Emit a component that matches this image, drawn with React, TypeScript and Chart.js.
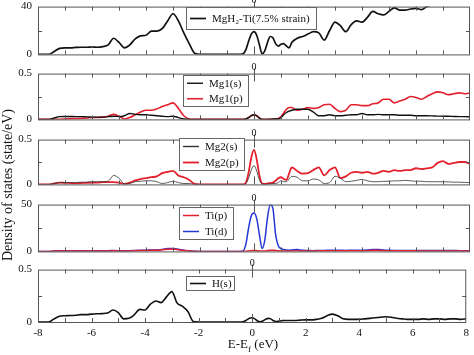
import React, { useEffect, useRef } from 'react';
import { Chart, registerables } from 'chart.js';
Chart.register(...registerables);

const energies = [
  -8.0, -7.8, -7.6, -7.4, -7.2, -7.0, -6.8, -6.6, -6.4, -6.2,
  -6.0, -5.8, -5.6, -5.4, -5.2, -5.0, -4.8, -4.6, -4.4, -4.2,
  -4.0, -3.8, -3.6, -3.4, -3.2, -3.0, -2.8, -2.6, -2.4, -2.2,
  -2.0, -1.8, -1.6, -1.4, -1.2, -1.0, -0.8, -0.6,
  -0.5, -0.4, -0.3, -0.2, -0.1, 0.0, 0.1, 0.2, 0.3, 0.4,
  0.5, 0.6, 0.7, 0.8, 0.9, 1.0, 1.1, 1.2, 1.3, 1.4,
  1.6, 1.8, 2.0, 2.2, 2.4, 2.6, 2.8, 3.0, 3.2, 3.4,
  3.6, 3.8, 4.0, 4.2, 4.4, 4.6, 4.8, 5.0, 5.2, 5.4,
  5.6, 5.8, 6.0, 6.2, 6.4, 6.6, 6.8, 7.0, 7.2, 7.4, 7.6, 7.8, 8.0,
];

const totalDos = [
  0, 0, 0, 2.5, 5, 5.5, 5.5, 5.8, 6, 6,
  6.2, 6, 6.5, 8, 13.5, 10, 5.5, 8, 13, 15.5,
  16, 19.5, 19.5, 21.5, 28, 34, 28, 18, 9, 1,
  0, 0, 0, 0, 0, 0, 0, 0,
  0, 0.5, 4, 11, 17, 19, 16, 8, 0.5, 3,
  10, 15, 14, 9, 7, 8.5, 9, 7, 5.5, 10,
  13.5, 15, 17, 19, 18, 12, 20, 27, 24, 19,
  25, 28, 27, 31, 36, 34, 33, 36, 39, 37,
  37, 38, 38.5, 37.5, 40, 42, 44, 43, 46, 45, 47, 46, 48,
];

const mg1s = [
  0, 0, 0, 0.015, 0.03, 0.032, 0.032, 0.03, 0.03, 0.028,
  0.025, 0.025, 0.025, 0.03, 0.035, 0.03, 0.04, 0.065, 0.055, 0.05,
  0.05, 0.045, 0.04, 0.035, 0.03, 0.035, 0.02, 0.005, 0, 0,
  0, 0, 0, 0, 0, 0, 0, 0,
  0, 0, 0.005, 0.02, 0.04, 0.05, 0.04, 0.015, 0, 0,
  0, 0.002, 0.005, 0.005, 0.005, 0.02, 0.05, 0.075, 0.09, 0.1,
  0.11, 0.11, 0.11, 0.08, 0.04, 0.04, 0.05, 0.04, 0.04, 0.045,
  0.05, 0.05, 0.065, 0.05, 0.05, 0.055, 0.05, 0.05, 0.05, 0.045,
  0.045, 0.045, 0.04, 0.04, 0.04, 0.038, 0.036, 0.035, 0.034, 0.032, 0.03, 0.03, 0.028,
];

const mg1p = [
  0, 0, 0, 0, 0, 0.005, 0.008, 0.01, 0.012, 0.015,
  0.02, 0.02, 0.025, 0.035, 0.055, 0.035, 0.005, 0.02, 0.05, 0.08,
  0.1, 0.1, 0.115, 0.14, 0.16, 0.18, 0.12, 0.04, 0.005, 0,
  0, 0, 0, 0, 0, 0, 0, 0,
  0, 0, 0.005, 0.02, 0.04, 0.05, 0.04, 0.015, 0, 0,
  0, 0, 0.002, 0.005, 0.01, 0.03, 0.07, 0.11, 0.13, 0.13,
  0.1, 0.11, 0.13, 0.12, 0.13, 0.16, 0.165, 0.12, 0.085, 0.1,
  0.16, 0.16, 0.15, 0.15, 0.17, 0.18, 0.22, 0.22, 0.18, 0.2,
  0.22, 0.25, 0.24, 0.22, 0.25, 0.28, 0.3, 0.29, 0.27, 0.28, 0.29, 0.28, 0.29,
];

const mg2s = [
  0, 0, 0, 0.01, 0.02, 0.02, 0.02, 0.02, 0.025, 0.025,
  0.03, 0.03, 0.03, 0.035, 0.1, 0.07, 0.005, 0.01, 0.03, 0.035,
  0.04, 0.04, 0.03, 0.01, 0.02, 0.035, 0.02, 0.01, 0.01, 0,
  0, 0, 0, 0, 0, 0, 0, 0,
  0, 0, 0.01, 0.07, 0.16, 0.21, 0.15, 0.05, 0.005, 0,
  0.002, 0.005, 0.01, 0.01, 0.02, 0.04, 0.03, 0.03, 0.06, 0.09,
  0.08, 0.04, 0.04, 0.06, 0.05, 0.01, 0.02, 0.09, 0.07, 0.03,
  0.035, 0.045, 0.055, 0.04, 0.03, 0.03, 0.035, 0.035, 0.04, 0.04,
  0.045, 0.04, 0.035, 0.035, 0.03, 0.03, 0.03, 0.03, 0.028, 0.025, 0.025, 0.022, 0.02,
];

const mg2p = [
  0, 0, 0, 0.01, 0.02, 0.018, 0.015, 0.012, 0.015, 0.018,
  0.02, 0.02, 0.025, 0.025, 0.025, 0.02, 0.005, 0.02, 0.045, 0.06,
  0.07, 0.08, 0.09, 0.125, 0.14, 0.15, 0.1, 0.08, 0.05, 0.005,
  0, 0, 0, 0, 0, 0, 0, 0,
  0, 0, 0.02, 0.13, 0.3, 0.385, 0.28, 0.1, 0.01, 0.005,
  0.01, 0.015, 0.02, 0.04, 0.07, 0.08, 0.06, 0.05, 0.12, 0.19,
  0.15, 0.12, 0.125, 0.16, 0.19, 0.1, 0.16, 0.19, 0.07, 0.09,
  0.13, 0.14, 0.13, 0.14, 0.12, 0.13, 0.15, 0.14, 0.16, 0.15,
  0.16, 0.16, 0.18, 0.17, 0.18, 0.19, 0.24, 0.26, 0.23, 0.24, 0.25, 0.25, 0.23,
];

const tiP = [
  0, 0, 0, 0.3, 0.5, 0.5, 0.5, 0.5, 0.5, 0.5,
  0.5, 0.5, 0.5, 0.5, 0.6, 0.5, 0.4, 0.5, 0.8, 1,
  1, 1.2, 1.3, 1.8, 2.2, 2.5, 1.8, 1, 0.5, 0.1,
  0, 0, 0, 0, 0, 0, 0, 0,
  0, 0, 0.2, 0.5, 0.8, 1, 0.8, 0.5, 0.3, 0.5,
  1, 1.3, 1.3, 1, 0.6, 0.5, 0.5, 0.5, 0.5, 0.5,
  0.6, 0.5, 0.5, 0.5, 0.6, 0.6, 0.6, 0.6, 0.6, 0.6,
  0.6, 0.6, 0.7, 0.8, 1.2, 1.2, 0.8, 0.6, 0.6, 0.6,
  0.6, 0.6, 0.6, 0.5, 0.5, 0.5, 0.5, 0.5, 0.5, 0.5, 0.5, 0.5, 0.5,
];

const tiD = [
  0, 0, 0, 0.5, 0.8, 0.8, 0.8, 0.8, 0.8, 0.8,
  0.8, 0.8, 0.8, 0.8, 0.9, 0.8, 0.6, 0.8, 1, 1.2,
  1.3, 1.5, 1.6, 2, 3, 3, 2.2, 1.2, 0.6, 0.1,
  0, 0, 0, 0, 0, 0, 0, 0,
  0, 0.5, 8, 25, 38, 41, 35, 18, 3, 12,
  36, 50, 46, 18, 6, 3, 2, 1.5, 1.2, 1.5,
  2, 1.2, 1, 0.8, 1, 1, 1.2, 1.2, 1.2, 1,
  1.2, 1.2, 1.3, 1.5, 2, 2, 1.5, 1.2, 1, 1,
  1, 1, 1, 0.9, 0.9, 0.9, 0.9, 0.9, 0.9, 0.9, 0.8, 0.8, 0.8,
];

const hS = [
  0, 0, 0, 0.03, 0.055, 0.06, 0.062, 0.065, 0.07, 0.07,
  0.075, 0.078, 0.08, 0.085, 0.115, 0.09, 0.03, 0.035, 0.07, 0.12,
  0.115, 0.17, 0.2, 0.185, 0.24, 0.29, 0.18, 0.15, 0.1, 0.005,
  0, 0, 0, 0, 0, 0, 0, 0,
  0, 0, 0.005, 0.02, 0.035, 0.04, 0.03, 0.01, 0.002, 0.01,
  0.025, 0.035, 0.03, 0.012, 0.005, 0.008, 0.012, 0.015, 0.015, 0.015,
  0.015, 0.018, 0.02, 0.02, 0.025, 0.035, 0.06, 0.075, 0.06, 0.03,
  0.025, 0.025, 0.025, 0.03, 0.035, 0.04, 0.045, 0.05, 0.045, 0.035,
  0.03, 0.025, 0.025, 0.025, 0.03, 0.025, 0.03, 0.03, 0.025, 0.03, 0.03, 0.025, 0.03,
];

const xTickLabels = [-8, -6, -4, -2, 0, 2, 4, 6, 8];
const yMaxes = [40, 0.5, 0.5, 50, 0.5];
const xTitle = 'E-E';
const xTitleSub = 'f';
const xTitleTail = ' (eV)';
const yTitle = 'Density of states (state/eV)';

const FONT = '"Liberation Serif", "DejaVu Serif", serif';
const BLACK = '#111111';
const RED = '#e3202c';
const BLUE = '#2438d4';

type Series = { label: string; values: number[]; color: string; width: number };
type Spec = {
  top: number; bottom: number; yMax: number; showX: boolean;
  series: Series[];
  legend: { x: number; y: number; w: number; h: number };
};

const PAD_TOP = 10;

const specs: Spec[] = [
  { top: 4, bottom: 59, yMax: yMaxes[0], showX: false,
    series: [{ label: 'MgH₂-Ti(7.5% strain)', values: totalDos, color: BLACK, width: 1.7 }],
    legend: { x: 186, y: 7, w: 130, h: 22 } },
  { top: 71, bottom: 124, yMax: yMaxes[1], showX: false,
    series: [
      { label: 'Mg1(s)', values: mg1s, color: BLACK, width: 1.4 },
      { label: 'Mg1(p)', values: mg1p, color: RED, width: 1.6 },
    ],
    legend: { x: 183, y: 75, w: 65, h: 31 } },
  { top: 137, bottom: 189, yMax: yMaxes[2], showX: false,
    series: [
      { label: 'Mg2(s)', values: mg2s, color: '#333333', width: 0.8 },
      { label: 'Mg2(p)', values: mg2p, color: RED, width: 1.8 },
    ],
    legend: { x: 179, y: 138, w: 65, h: 32 } },
  { top: 202, bottom: 256, yMax: yMaxes[3], showX: false,
    series: [
      { label: 'Ti(p)', values: tiP, color: RED, width: 1.5 },
      { label: 'Ti(d)', values: tiD, color: BLUE, width: 1.5 },
    ],
    legend: { x: 179, y: 207, w: 54, h: 32 } },
  { top: 267, bottom: 322, yMax: yMaxes[4], showX: true,
    series: [{ label: 'H(s)', values: hS, color: BLACK, width: 1.6 }],
    legend: { x: 186, y: 276, w: 48, h: 14 } },
];

function makeDecor(spec: Spec) {
  return {
    id: 'decor',
    afterDraw(chart: any) {
      const { ctx, chartArea } = chart;
      const { left, right, top, bottom } = chartArea;
      const xs = chart.scales.x;
      const ys = chart.scales.y;
      ctx.save();
      ctx.strokeStyle = '#555555';
      ctx.lineWidth = 1;
      ctx.strokeRect(left + 0.5, top + 0.5, right - left - 1, bottom - top);
      ctx.beginPath();
      for (let e = -7; e <= 7; e++) {
        const px = Math.round(xs.getPixelForValue(e)) + 0.5;
        const len = e === 0 ? 8 : 4;
        ctx.moveTo(px, bottom);
        ctx.lineTo(px, bottom - len);
        ctx.moveTo(px, top + (e === 0 ? -5 : 0));
        ctx.lineTo(px, top + len);
      }
      const my = Math.round(ys.getPixelForValue(spec.yMax / 2)) + 0.5;
      ctx.moveTo(left, my); ctx.lineTo(left + 4, my);
      ctx.moveTo(right, my); ctx.lineTo(right - 4, my);
      ctx.stroke();
      ctx.fillStyle = BLACK;
      ctx.font = `10px ${FONT}`;
      ctx.textAlign = 'center';
      ctx.textBaseline = 'alphabetic';
      ctx.fillText('0', xs.getPixelForValue(0), top - 4);

      const offY = spec.top - PAD_TOP;
      const L = spec.legend;
      const lx = L.x, ly = L.y - offY;
      ctx.fillStyle = '#ffffff';
      ctx.fillRect(lx, ly, L.w, L.h);
      ctx.strokeStyle = '#666666';
      ctx.lineWidth = 1;
      ctx.strokeRect(lx + 0.5, ly + 0.5, L.w, L.h);
      const n = chart.data.datasets.length;
      const rowH = L.h / n;
      chart.data.datasets.forEach((ds: any, i: number) => {
        const cy = ly + rowH * (i + 0.5) + 0.5;
        ctx.strokeStyle = ds.borderColor;
        ctx.lineWidth = Math.max(1.4, ds.borderWidth);
        ctx.beginPath();
        ctx.moveTo(lx + 4, cy);
        ctx.lineTo(lx + 20, cy);
        ctx.stroke();
        ctx.fillStyle = BLACK;
        ctx.font = `11px ${FONT}`;
        ctx.textAlign = 'left';
        ctx.textBaseline = 'middle';
        ctx.fillText(ds.label, lx + 26, cy + 0.5);
      });
      ctx.restore();
    },
  };
}

function Panel({ spec }: { spec: Spec }) {
  const ref = useRef<HTMLCanvasElement>(null);
  const padBottom = spec.showX ? 4 : 8;
  const xHeight = spec.showX ? 24 : 0;
  const height = spec.bottom - spec.top + PAD_TOP + padBottom + xHeight;
  useEffect(() => {
    const canvas = ref.current!;
    const chart = new Chart(canvas, {
      type: 'line',
      data: {
        datasets: spec.series.map((s) => ({
          label: s.label,
          data: energies.map((e, i) => ({ x: e, y: s.values[i] })),
          borderColor: s.color,
          backgroundColor: s.color,
          borderWidth: s.width,
          pointRadius: 0,
          fill: false,
          cubicInterpolationMode: 'monotone',
        })),
      },
      options: {
        responsive: false,
        maintainAspectRatio: false,
        animation: false,
        devicePixelRatio: 1,
        layout: { padding: { top: PAD_TOP, bottom: padBottom, left: 0, right: 4 } },
        plugins: { legend: { display: false }, tooltip: { enabled: false } },
        scales: {
          x: {
            type: 'linear', min: -8, max: 8, display: spec.showX,
            grid: { display: false, drawTicks: false },
            border: { display: false },
            afterBuildTicks: (s: any) => { s.ticks = xTickLabels.map((v) => ({ value: v })); },
            ticks: { font: { family: FONT, size: 11 }, color: BLACK, padding: 5, maxRotation: 0, autoSkip: false },
            afterFit: (s: any) => { s.height = xHeight; },
          },
          y: {
            min: 0, max: spec.yMax,
            grid: { display: false, drawTicks: false },
            border: { display: false },
            afterBuildTicks: (s: any) => { s.ticks = [0, spec.yMax / 2, spec.yMax].map((v) => ({ value: v })); },
            ticks: {
              font: { family: FONT, size: 11 }, color: BLACK, padding: 6,
              callback: (v: any) => (v === spec.yMax / 2 ? '' : String(v)),
            },
            afterFit: (s: any) => { s.width = 38; },
          },
        },
      } as any,
      plugins: [makeDecor(spec)],
    });
    return () => chart.destroy();
  }, []);
  return (
    <canvas
      ref={ref}
      width={474}
      height={height}
      style={{ position: 'absolute', left: 0, top: spec.top - PAD_TOP, width: 474, height }}
    />
  );
}

export default function App() {
  return (
    <div style={{ position: 'fixed', left: 0, top: 0, width: 474, height: 355, background: '#fff', overflow: 'hidden' }}>
      {specs.map((s, i) => <Panel key={i} spec={s} />)}
      <div
        style={{
          position: 'absolute', left: 8, top: 185, transform: 'translate(-50%, -50%) rotate(-90deg)',
          whiteSpace: 'nowrap', font: `14px ${FONT}`, color: BLACK, lineHeight: '14px',
        }}
      >
        {yTitle}
      </div>
      <div
        style={{
          position: 'absolute', left: 253, top: 337, transform: 'translateX(-50%)',
          whiteSpace: 'nowrap', font: `13px ${FONT}`, color: BLACK, lineHeight: '13px',
        }}
      >
        {xTitle}<sub style={{ fontSize: 9 }}>{xTitleSub}</sub>{xTitleTail}
      </div>
    </div>
  );
}
